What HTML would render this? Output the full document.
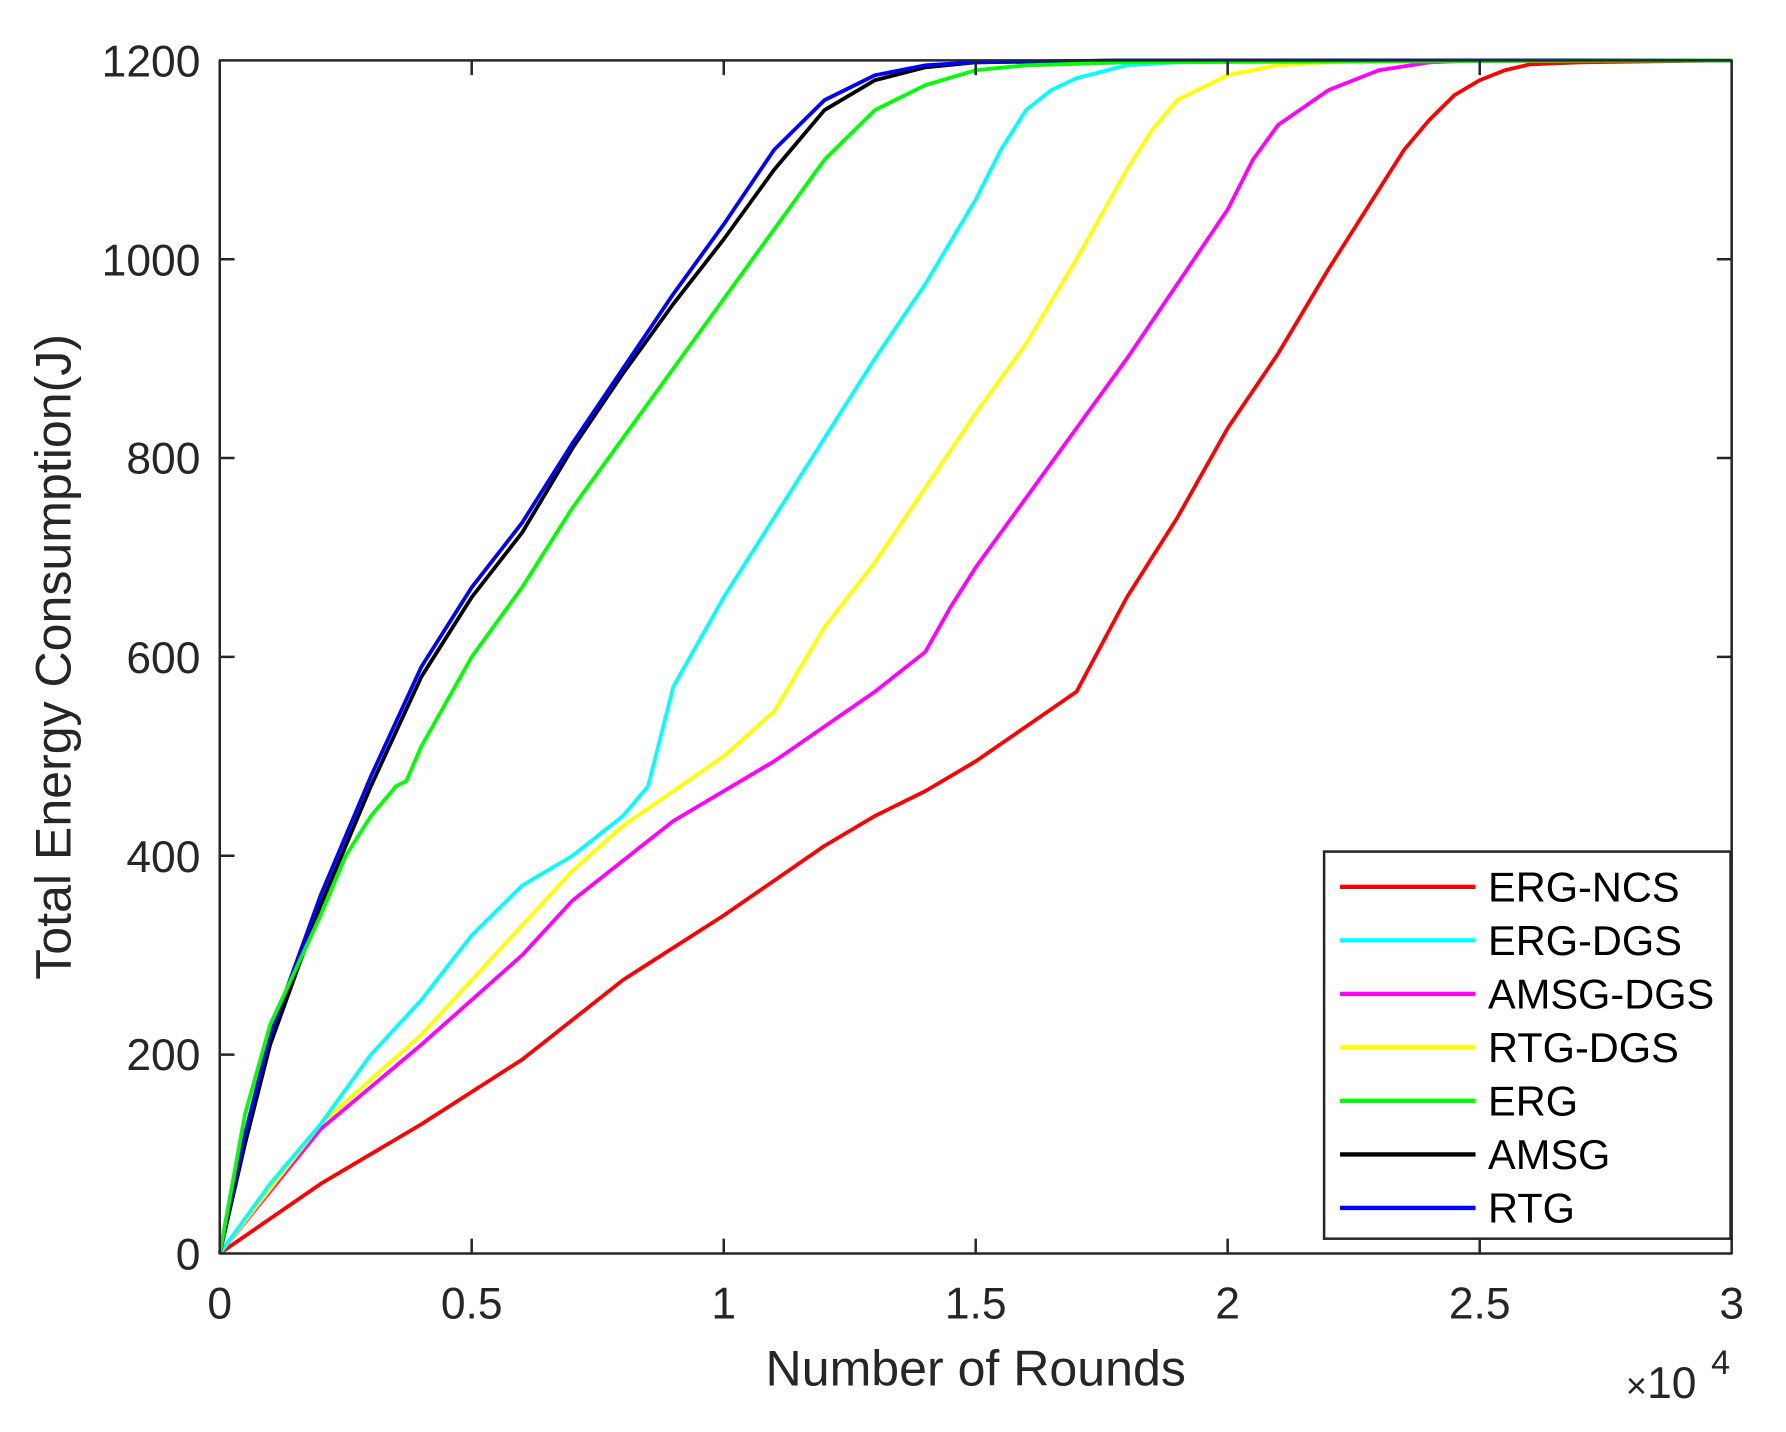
<!DOCTYPE html>
<html><head><style>html,body{margin:0;padding:0;background:#fff}svg{display:block}</style></head>
<body>
<svg width="1786" height="1432" viewBox="0 0 1568.7 1257.8" xmlns="http://www.w3.org/2000/svg" font-family="Liberation Sans, Arial, sans-serif">
<rect width="1568.7" height="1257.8" fill="#fff"/>
<g fill="none" stroke-linejoin="round">
<g transform="translate(193,1101) scale(0.0442667,-0.873333)">
<polyline vector-effect="non-scaling-stroke" stroke="#ff0000" stroke-width="3.8" points="0,0 2000,70 4000,130 6000,195 8000,275 10000,340 11000,375 12000,410 13000,440 14000,465 15000,495 16000,530 17000,565 18000,660 19000,740 20000,830 21000,905 22000,990 23000,1070 23500,1110 24000,1140 24500,1165 25000,1180 25500,1190 26000,1196 27000,1198 30000,1200"/>
<polyline vector-effect="non-scaling-stroke" stroke="#ff00ff" stroke-width="3.8" points="0,0 2000,125 4000,210 5000,255 6000,300 7000,355 8000,395 9000,435 10000,465 11000,495 12000,530 13000,565 14000,605 14500,650 15000,690 16000,760 17000,830 18000,900 19000,975 20000,1050 20500,1100 21000,1135 22000,1170 23000,1190 24000,1198 25000,1200 30000,1200"/>
<polyline vector-effect="non-scaling-stroke" stroke="#ffff00" stroke-width="3.8" points="0,0 2000,130 4000,220 5000,275 6000,330 7000,385 8000,430 9000,465 10000,500 11000,545 12000,630 13000,695 14000,770 15000,845 16000,915 17000,1000 18000,1090 18500,1130 19000,1160 20000,1185 21000,1195 22000,1198 23000,1200 30000,1200"/>
<polyline vector-effect="non-scaling-stroke" stroke="#00ffff" stroke-width="3.8" points="0,0 1000,70 2000,130 3000,200 4000,255 5000,320 6000,370 7000,400 7500,420 8000,440 8500,470 9000,570 10000,660 11000,740 12000,820 13000,900 14000,975 15000,1060 15500,1110 16000,1150 16500,1170 17000,1182 18000,1195 19000,1198 22000,1200 30000,1200"/>
<polyline vector-effect="non-scaling-stroke" stroke="#000" stroke-width="3.8" points="0,0 500,110 1000,210 2000,350 3000,470 4000,580 5000,660 6000,725 7000,810 8000,885 9000,955 10000,1020 11000,1090 12000,1150 13000,1180 14000,1193 15000,1198 18000,1200 30000,1200"/>
<polyline vector-effect="non-scaling-stroke" stroke="#0000ff" stroke-width="3.8" points="0,0 500,120 1000,220 2000,360 3000,480 4000,590 5000,670 6000,735 7000,815 8000,890 9000,965 10000,1035 11000,1110 12000,1160 13000,1185 14000,1195 15000,1198 18000,1200 30000,1200"/>
<polyline vector-effect="non-scaling-stroke" stroke="#00ff00" stroke-width="3.8" points="0,0 500,140 1000,230 2000,340 2500,400 3000,440 3500,470 3700,475 4000,510 5000,600 6000,670 7000,750 8000,820 9000,890 10000,960 11000,1030 12000,1100 13000,1150 14000,1175 15000,1190 16000,1195 18000,1198 30000,1200"/>
</g>
<rect x="193" y="53" width="1328" height="1048" stroke="#262626" stroke-width="2.2"/>
<path stroke="#262626" stroke-width="2.2" d="M414.3,1101v-13M635.7,1101v-13M857,1101v-13M1078.3,1101v-13M1299.7,1101v-13M414.3,53v13M635.7,53v13M857,53v13M1078.3,53v13M1299.7,53v13M193,926.3h13M193,751.7h13M193,577h13M193,402.3h13M193,227.7h13M1521,926.3h-13M1521,751.7h-13M1521,577h-13M1521,402.3h-13M1521,227.7h-13"/>
</g>
<g fill="#262626" font-size="39">
<g text-anchor="end">
<text x="176" y="1115">0</text><text x="176" y="940">200</text><text x="176" y="766">400</text><text x="176" y="591">600</text><text x="176" y="416">800</text><text x="176" y="242">1000</text><text x="176" y="67">1200</text>
</g>
<g text-anchor="middle">
<text x="193" y="1158">0</text><text x="414.3" y="1158">0.5</text><text x="635.7" y="1158">1</text><text x="857" y="1158">1.5</text><text x="1078.3" y="1158">2</text><text x="1299.7" y="1158">2.5</text><text x="1521" y="1158">3</text>
<text x="857" y="1217" font-size="44">Number of Rounds</text>
<text transform="translate(62,577) rotate(-90)" font-size="44">Total Energy Consumption(J)</text>
</g>
<text x="1428" y="1228" font-size="32">×<tspan font-size="39">10</tspan></text><text x="1503" y="1207" font-size="30">4</text>
</g>
<rect x="1163" y="748" width="357" height="340" fill="#fff" stroke="#262626" stroke-width="2.2"/>
<g stroke-width="3.8">
<line x1="1177" x2="1296" y1="779" y2="779" stroke="#ff0000"/>
<line x1="1177" x2="1296" y1="826" y2="826" stroke="#00ffff"/>
<line x1="1177" x2="1296" y1="873" y2="873" stroke="#ff00ff"/>
<line x1="1177" x2="1296" y1="920" y2="920" stroke="#ffff00"/>
<line x1="1177" x2="1296" y1="967" y2="967" stroke="#00ff00"/>
<line x1="1177" x2="1296" y1="1014" y2="1014" stroke="#000"/>
<line x1="1177" x2="1296" y1="1061" y2="1061" stroke="#0000ff"/>
</g>
<g font-size="36.5" fill="#000">
<text x="1307" y="792">ERG-NCS</text><text x="1307" y="839">ERG-DGS</text><text x="1307" y="886">AMSG-DGS</text><text x="1307" y="933">RTG-DGS</text><text x="1307" y="980">ERG</text><text x="1307" y="1027">AMSG</text><text x="1307" y="1074">RTG</text>
</g>
</svg>
</body></html>
